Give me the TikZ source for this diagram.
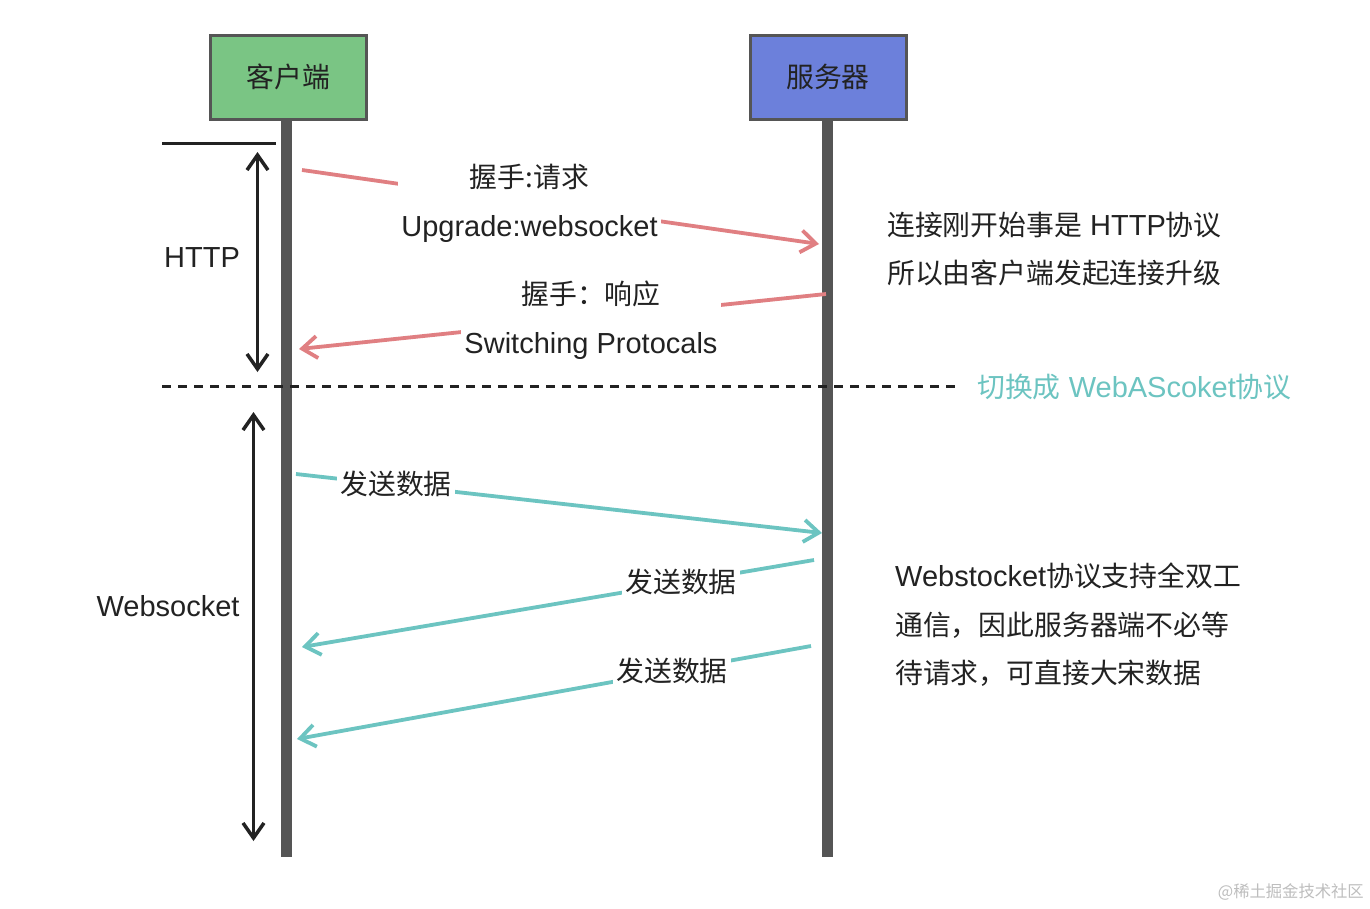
\documentclass[tikz,border=0pt]{standalone}
\usepackage{fontspec}
\setmainfont{Liberation Sans}
\newfontfamily\cjk{Noto Sans CJK SC}[Scale=0.96]
\usetikzlibrary{arrows.meta}
\definecolor{boxgreen}{RGB}{122,197,132}
\definecolor{boxblue}{RGB}{108,128,219}
\definecolor{lifegray}{RGB}{85,85,85}
\definecolor{reqred}{RGB}{224,127,130}
\definecolor{wsteal}{RGB}{108,196,193}
\definecolor{ink}{RGB}{34,34,34}
\definecolor{wmgray}{RGB}{190,190,190}
\begin{document}
\begin{tikzpicture}[x=1pt,y=-1pt,
  every node/.style={text=ink, font=\fontsize{29}{48.5}\selectfont},
  actor/.style={draw=lifegray, line width=3pt, minimum width=156pt, minimum height=84pt, inner sep=0pt},
  lifeline/.style={draw=lifegray, line width=11pt},
  msgred/.style={draw=reqred, line width=3.8pt, -{Straight Barb[length=15pt,width=22pt]}},
  msgteal/.style={draw=wsteal, line width=3.8pt, -{Straight Barb[length=15pt,width=22pt]}},
  span/.style={draw=ink, line width=3.5pt, {Straight Barb[length=15pt,width=21pt]}-{Straight Barb[length=15pt,width=21pt]}},
  msglabel/.style={fill=white, align=center, inner xsep=3pt, inner ysep=4pt},
  note/.style={anchor=west, align=left, inner sep=0pt}
]
\useasboundingbox[fill=white] (0,0) rectangle (1370,908);

% actors
\node[actor, fill=boxgreen] (client) at (288.3,77) {\cjk 客户端};
\node[actor, fill=boxblue] (server) at (828,77) {\cjk 服务器};

% lifelines
\coordinate (cTop) at (286,120);
\coordinate (cBot) at (286,857);
\coordinate (sTop) at (827,120);
\coordinate (sBot) at (827,857);
\draw[lifeline] (cTop) -- (cBot);
\draw[lifeline] (sTop) -- (sBot);

% phase markers
\coordinate (barL) at (162,143.3);
\coordinate (barR) at (276,143.3);
\draw[draw=ink, line width=3.3pt] (barL) -- (barR);
\coordinate (httpT) at (257.5,152);
\coordinate (httpB) at (257.5,372);
\draw[span] (httpT) -- (httpB);
\coordinate (wsT) at (253.5,412);
\coordinate (wsB) at (253.5,841);
\draw[span] (wsT) -- (wsB);
\coordinate (dashL) at (162,386.7);
\coordinate (dashR) at (955,386.7);
\draw[draw=ink, line width=3.3pt, dash pattern=on 9pt off 7pt] (dashL) -- (dashR);

\node (http) at (202,258) {HTTP};
\node (ws) at (168,606) {Websocket};

% handshake messages
\coordinate (reqS) at (302,170);
\coordinate (reqE) at (819,244);
\draw[msgred] (reqS) -- (reqE);
\node[msglabel] (reqL) at (529.5,203.5) {{\cjk 握手:请求}\\Upgrade:websocket};

\coordinate (resS) at (826,294);
\coordinate (resE) at (299,349);
\draw[msgred] (resS) -- (resE);
\node[msglabel] (resL) at (591,320) {{\cjk 握手：响应}\\Switching Protocals};

% websocket messages
\coordinate (m1S) at (296,474);
\coordinate (m1E) at (822,533);
\draw[msgteal] (m1S) -- (m1E);
\node[msglabel] (m1L) at (396,484) {\cjk 发送数据};

\coordinate (m2S) at (814,560);
\coordinate (m2E) at (302,647);
\draw[msgteal] (m2S) -- (m2E);
\node[msglabel] (m2L) at (681,582) {\cjk 发送数据};

\coordinate (m3S) at (811,646);
\coordinate (m3E) at (297,739);
\draw[msgteal] (m3S) -- (m3E);
\node[msglabel] (m3L) at (672,671) {\cjk 发送数据};

% notes
\node[note] (note1) at (887,249) {{\cjk 连接刚开始事是} HTTP{\cjk 协议}\\{\cjk 所以由客户端发起连接升级}};
\node[note, text=wsteal] (switch) at (977,387) {{\cjk 切换成} WebAScoket{\cjk 协议}};
\node[note] (note2) at (895,625) {Webstocket{\cjk 协议支持全双工}\\{\cjk 通信，因此服务器端不必等}\\{\cjk 待请求，可直接大宋数据}};

\node[anchor=east, inner sep=0pt, text=wmgray, font=\fontsize{17}{20}\selectfont] (wm) at (1364,892) {\cjk @稀土掘金技术社区};
\end{tikzpicture}
\end{document}
